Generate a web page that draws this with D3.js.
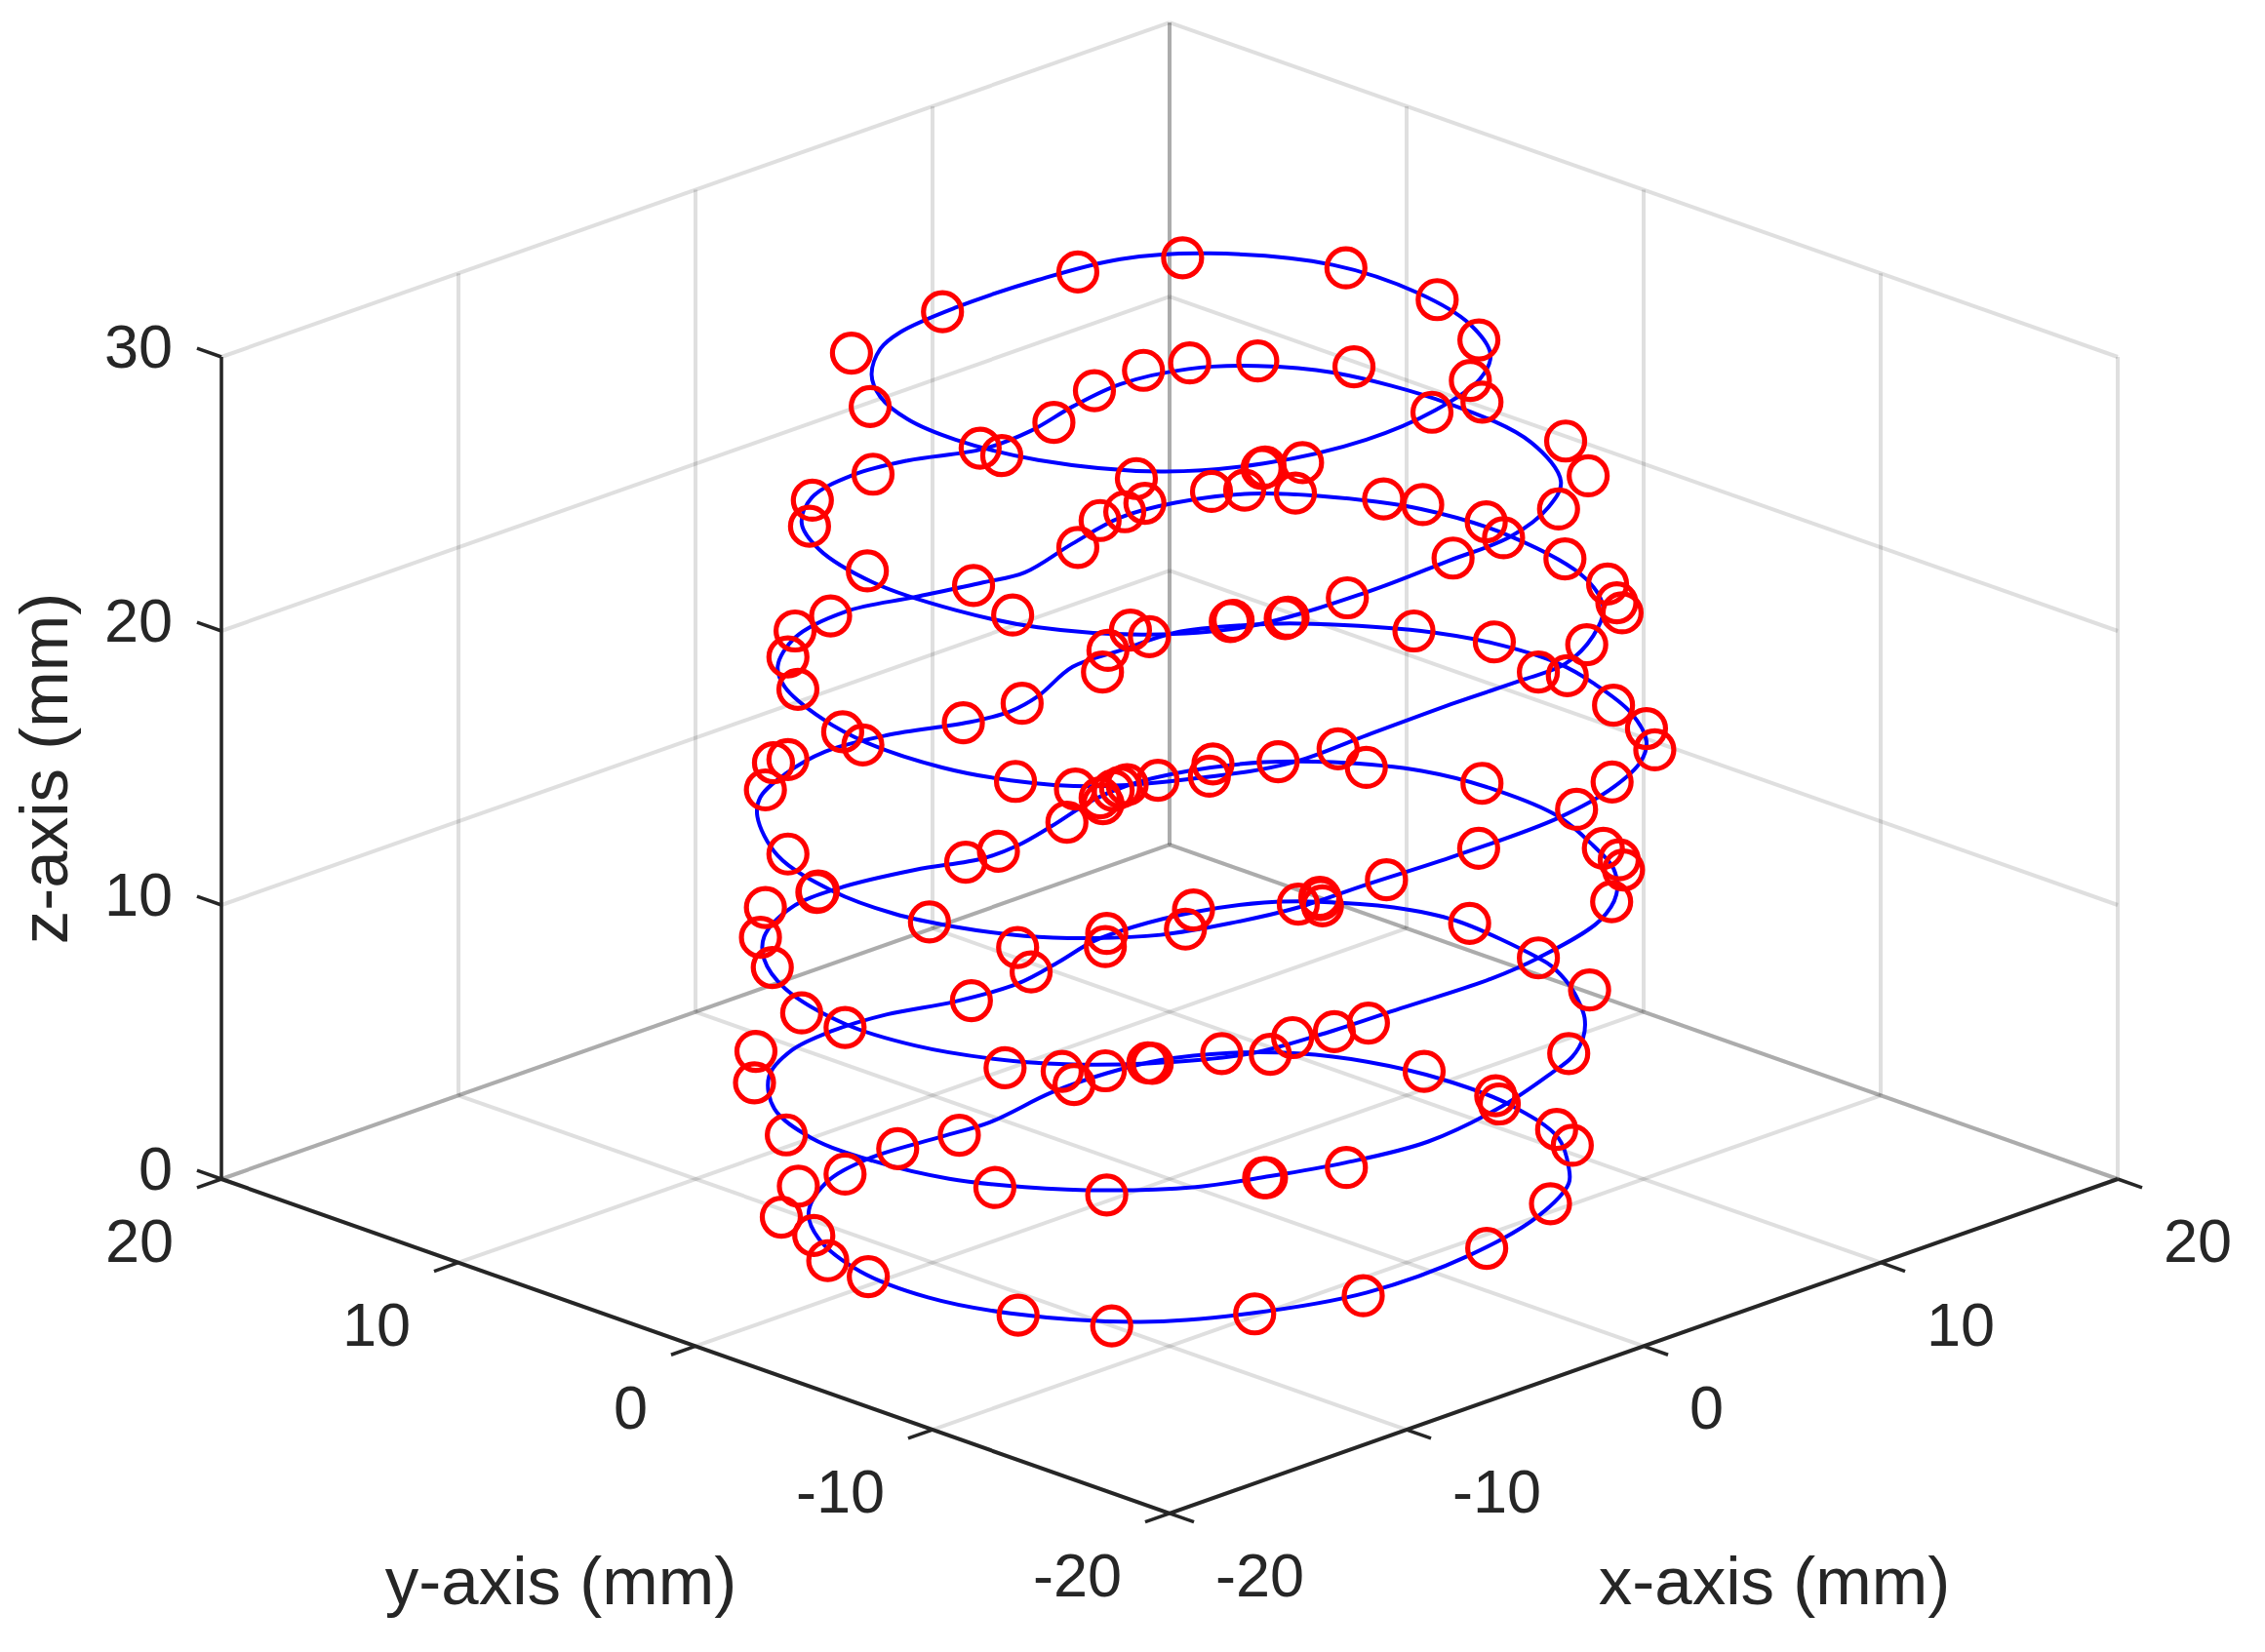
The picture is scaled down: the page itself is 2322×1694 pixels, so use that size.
<!DOCTYPE html>
<html><head><meta charset="utf-8">
<style>html,body{margin:0;padding:0;background:#fff}text{font-family:"Liberation Sans",Arial,sans-serif;fill:#262626}</style>
<script src="https://cdn.jsdelivr.net/npm/d3@7"></script></head>
<body><svg id="c" width="2322" height="1694"></svg>
<script>
// Axis ticks (mm)
const xTicks=[-20,-10,0,10,20];
const yTicks=[-20,-10,0,10,20];
const zTicks=[0,10,20,30];
const xTitle="x-axis (mm)", yTitle="y-axis (mm)", zTitle="z-axis (mm)";
// In viewing-plane mm: U = x - y, V = z + 0.305 (x + y)
const markerU=[.55,7.44,11.29,13.05,12.69,13.18,11.07,5.61,4.03,3.90,1.77,3.17,5.31,9.03,10.68,13.36,14.09,16.41,17.66,16.71,7.78,3.72,.85,-1.10,-3.17,-4.88,-7.08,-7.99,-12.51,-15.07,-15.19,-12.75,-8.27,-6.62,-1.40,-1.04,-1.89,-2.93,-3.87,-12.63,-13.42,-9.58,-3.87,16.68,11.96,7.50,5.00,4.88,2.68,2.56,10.31,13.70,15.56,16.78,17.60,18.48,18.87,19.09,-1.65,-.85,-2.60,-2.83,-14.30,-15.80,-16.10,-15.68,-13.79,-12.94,-8.70,-6.22,18.73,20.12,20.47,18.67,17.17,13.18,8.30,7.11,4.58,1.83,1.68,-.49,-1.79,-2.07,-2.38,-2.81,-2.93,-3.97,-6.50,-4.33,-7.22,-8.60,-16.10,-14.82,-14.88,-16.10,-16.71,-17.05,-17.05,-17.26,-16.76,-15.52,-13.69,-8.36,-5.84,-6.41,-10.13,-2.65,-2.71,.67,1.01,5.43,6.34,6.45,6.38,9.15,13.04,12.66,15.56,17.72,16.84,18.65,19.15,18.97,18.30,8.39,6.95,5.19,4.25,10.74,2.20,-.73,-.92,-2.71,-4.53,-4.03,-6.94,-17.45,-17.51,13.76,13.91,-16.17,-11.47,-8.87,16.33,16.99,16.07,13.38,8.17,3.59,-2.44,-6.39,-12.71,-14.42,-15.01,-16.38,-15.66,-13.69,-7.37,-2.65,3.97,4.09,7.46];
const markerV=[33.62,33.25,32.09,30.62,29.14,28.35,27.98,26.14,25.98,25.93,25.09,25.14,25.03,24.82,24.61,23.98,23.40,24.45,25.66,26.93,29.64,29.85,29.78,29.51,28.77,27.61,26.40,26.67,25.72,24.77,23.82,22.19,21.66,20.58,25.56,24.66,24.35,24.03,23.05,28.19,30.14,31.65,33.10,22.63,22.66,21.21,20.50,20.45,20.39,20.34,20.00,19.60,18.50,18.37,19.50,21.71,21.03,20.66,20.03,19.79,19.29,18.50,20.55,20.00,19.05,17.87,16.32,15.84,16.65,17.36,17.29,16.44,15.66,14.49,13.49,14.44,15.02,15.70,15.23,15.15,14.70,14.55,14.39,14.30,14.18,13.70,13.91,14.23,14.51,13.02,11.96,11.56,11.86,10.51,10.46,15.31,15.19,14.20,9.91,8.82,7.72,6.06,5.53,6.51,7.56,8.45,9.38,8.96,8.48,9.12,9.82,10.03,10.28,9.97,10.20,10.92,12.07,9.33,8.07,6.90,4.58,10.12,11.28,11.65,12.07,5.69,5.38,5.16,4.55,3.93,4.58,4.22,4.24,3.95,3.93,3.45,4.06,4.66,3.51,3.04,2.74,1.61,1.11,1.60,1.81,1.23,-.90,-2.53,-4.26,-4.92,-5.36,-4.97,-3.56,-2.98,-2.06,-1.39,-.26,.18,-.31,-.58,.05,.05,.42];
const path1U=[13.54,12.66,10.49,6.89,1.68,-2.07,-5.55,-9.03,-11.35,-12.20,-12.57,-12.20,-11.04,-9.03,-5.55,-.37,3.97,8.30,11.22,13.10];
const path1V=[30.09,31.20,32.33,33.36,33.78,33.57,32.81,31.80,30.91,30.30,29.35,28.54,27.72,26.98,26.24,25.82,26.11,26.98,28.06,29.20];
const path2U=[16.51,15.25,11.77,6.89,3.70,.79,-2.07,-4.09,-5.86,-7.87,-11.04,-13.36,-15.09,-15.52,-14.79,-12.51,-9.03,-5.55,-.92,3.42,8.33,11.77,14.40,15.98];
const path2V=[25.45,26.88,28.30,29.43,29.67,29.56,29.01,28.19,27.30,26.64,26.22,25.69,24.87,23.93,22.98,21.77,20.76,20.13,19.87,20.18,21.42,22.56,23.45,24.51];
const path3U=[18.30,17.57,14.40,10.61,6.28,3.42,.24,-2.07,-4.09,-6.12,-7.87,-10.74,-13.66,-15.80,-16.53,-16.24,-14.64,-12.77,-9.60,-6.71,-3.23,1.40,5.15,8.33,12.08,14.95,16.71,17.87];
const path3V=[20.82,21.90,23.45,24.45,24.93,25.01,24.68,24.14,23.19,22.13,21.77,21.24,20.71,19.76,18.71,17.97,16.79,15.92,15.02,14.55,14.33,14.65,15.19,16.20,17.39,18.23,18.81,19.82];
const path4U=[20.12,19.46,17.87,16.41,13.66,10.61,6.01,4.27,.24,-2.07,-4.09,-5.55,-6.71,-8.44,-11.90,-14.52,-16.23,-17.26,-17.39,-16.53,-14.21,-11.61,-9.03,-6.12,-3.23,-.37,2.54,5.43,8.33,12.08,16.41,18.73,19.89];
const path4V=[15.97,17.02,18.10,18.81,19.55,20.00,20.26,20.26,19.94,19.29,18.69,17.62,17.07,16.67,16.20,15.60,14.77,13.94,13.23,11.80,10.51,9.68,9.20,8.87,8.79,8.91,9.33,9.91,10.75,11.80,13.18,14.30,15.25];
const path5U=[18.85,18.73,17.87,16.41,13.82,10.64,6.89,3.99,.81,-1.79,-3.23,-4.97,-6.41,-7.87,-10.74,-13.93,-15.95,-17.10,-17.10,-16.23,-13.64,-10.74,-7.56,-4.39,-.92,3.42,6.89,9.76,13.54,15.56,18.15];
const path5V=[10.38,11.33,12.17,13.23,14.18,14.89,15.21,15.21,14.89,14.36,13.83,12.88,12.17,11.70,11.28,10.62,9.91,8.85,8.01,6.96,5.64,4.87,4.40,4.19,4.22,4.58,5.41,6.23,7.30,8.07,9.43];
const path6U=[17.51,17.26,16.88,16.10,15.56,12.08,9.46,6.30,3.99,1.10,-1.53,-3.23,-4.70,-6.41,-9.03,-11.91,-14.21,-15.95,-16.90,-16.67,-15.09,-12.51,-9.30,-6.12,-2.65,1.10,3.99,7.44,10.92,14.09,16.10,16.99,17.45];
const path6V=[5.88,6.48,7.06,7.78,8.07,9.43,9.91,10.12,10.09,9.75,9.20,8.67,7.91,7.13,6.48,6.01,5.41,4.69,3.74,2.56,1.49,.66,.01,-.29,-.41,-.29,.07,.60,1.37,2.69,3.86,4.46,5.16];
const path7U=[16.84,16.41,14.40,11.50,8.33,5.43,2.54,-.37,-2.65,-4.97,-7.56,-9.60,-12.77,-14.52,-15.23,-14.79,-13.05,-10.19,-6.71,-1.22,3.42,8.33,12.66,15.56,16.84];
const path7V=[.42,1.49,2.69,3.64,4.28,4.58,4.60,4.34,3.86,3.16,2.08,1.55,.72,-.16,-1.24,-2.19,-3.37,-4.32,-4.90,-5.21,-4.90,-4.14,-2.78,-1.35,-.16];
const paths=[[path1U,path1V],[path2U,path2V],[path3U,path3V],[path4U,path4V],[path5U,path5V],[path6U,path6V],[path7U,path7V]];

const uScale=d3.scaleLinear().domain([-40,40]).range([227,2171]);
const vScale=d3.scaleLinear().domain([0,30]).range([1209,366]);
const tilt=0.305;
const project=(x,y,z)=>[uScale(x-y),vScale(z+tilt*(x+y))];

const ink="#262626";
const svg=d3.select("#c");
const seg=(g,a,b,stroke,w,op)=>{const p=project(...a),q=project(...b);
  g.append("line").attr("x1",p[0]).attr("y1",p[1]).attr("x2",q[0]).attr("y2",q[1])
   .attr("stroke",stroke).attr("stroke-width",w).attr("stroke-opacity",op==null?1:op);};

const grid=svg.append("g");
const zTop=30,zBase=0,lo=-20,hi=20;
// floor
xTicks.forEach(x=>seg(grid,[x,lo,zBase],[x,hi,zBase],ink,4,.15));
yTicks.forEach(y=>seg(grid,[lo,y,zBase],[hi,y,zBase],ink,4,.15));
// back walls
xTicks.forEach(x=>seg(grid,[x,hi,zBase],[x,hi,zTop],ink,4,.15));
yTicks.forEach(y=>seg(grid,[hi,y,zBase],[hi,y,zTop],ink,4,.15));
zTicks.forEach(z=>{seg(grid,[lo,hi,z],[hi,hi,z],ink,4,.15);seg(grid,[hi,hi,z],[hi,lo,z],ink,4,.15);});
// back edges of the box
seg(grid,[lo,hi,zBase],[hi,hi,zBase],ink,4,.15);
seg(grid,[hi,hi,zBase],[hi,lo,zBase],ink,4,.15);
seg(grid,[hi,hi,zBase],[hi,hi,zTop],ink,4,.15);

// front axes
const ax=svg.append("g");
const tl=1.03;
seg(ax,[lo,hi,zBase],[lo,hi,zTop],ink,3.5);
seg(ax,[lo,hi,zBase],[lo,lo,zBase],ink,4);
seg(ax,[lo,lo,zBase],[hi,lo,zBase],ink,4);
xTicks.forEach(x=>seg(ax,[x,lo,zBase],[x,lo-tl,zBase],ink,3.5));
yTicks.forEach(y=>seg(ax,[lo,y,zBase],[lo-tl,y,zBase],ink,3.5));
zTicks.forEach(z=>seg(ax,[lo,hi,z],[lo,hi+tl,z],ink,3.5));

// trajectory
const line=d3.line().x(d=>uScale(d[0])).y(d=>vScale(d[1])).curve(d3.curveCatmullRomClosed.alpha(.5));
svg.append("g").selectAll("path").data(paths).join("path")
  .attr("d",d=>line(d3.zip(d[0],d[1]))).attr("fill","none").attr("stroke","#0000ff").attr("stroke-width",4);

// measured points
svg.append("g").selectAll("circle").data(d3.zip(markerU,markerV)).join("circle")
  .attr("cx",d=>uScale(d[0])).attr("cy",d=>vScale(d[1])).attr("r",19.5)
  .attr("fill","none").attr("stroke","#ff0000").attr("stroke-width",5.2);

// labels
const fs=63;
const lab=svg.append("g").attr("font-size",fs);
const fmt=v=>String(v);
xTicks.forEach(x=>{const p=project(x,lo,zBase);
  lab.append("text").attr("x",p[0]+47).attr("y",p[1]+85).text(fmt(x));});
yTicks.forEach(y=>{const p=project(lo,y,zBase);
  lab.append("text").attr("x",p[0]-49).attr("y",p[1]+85).attr("text-anchor","end").text(fmt(y));});
zTicks.forEach(z=>{const p=project(lo,hi,z);
  lab.append("text").attr("x",177).attr("y",p[1]+11).attr("text-anchor","end").text(fmt(z));});
const tf=69;
svg.append("text").attr("font-size",tf).attr("text-anchor","middle").attr("x",1819).attr("y",1645).text(xTitle);
svg.append("text").attr("font-size",tf).attr("text-anchor","middle").attr("x",575).attr("y",1645).text(yTitle);
svg.append("text").attr("font-size",tf).attr("text-anchor","middle").attr("transform","translate(69,788) rotate(-90)").text(zTitle);
</script></body></html>
